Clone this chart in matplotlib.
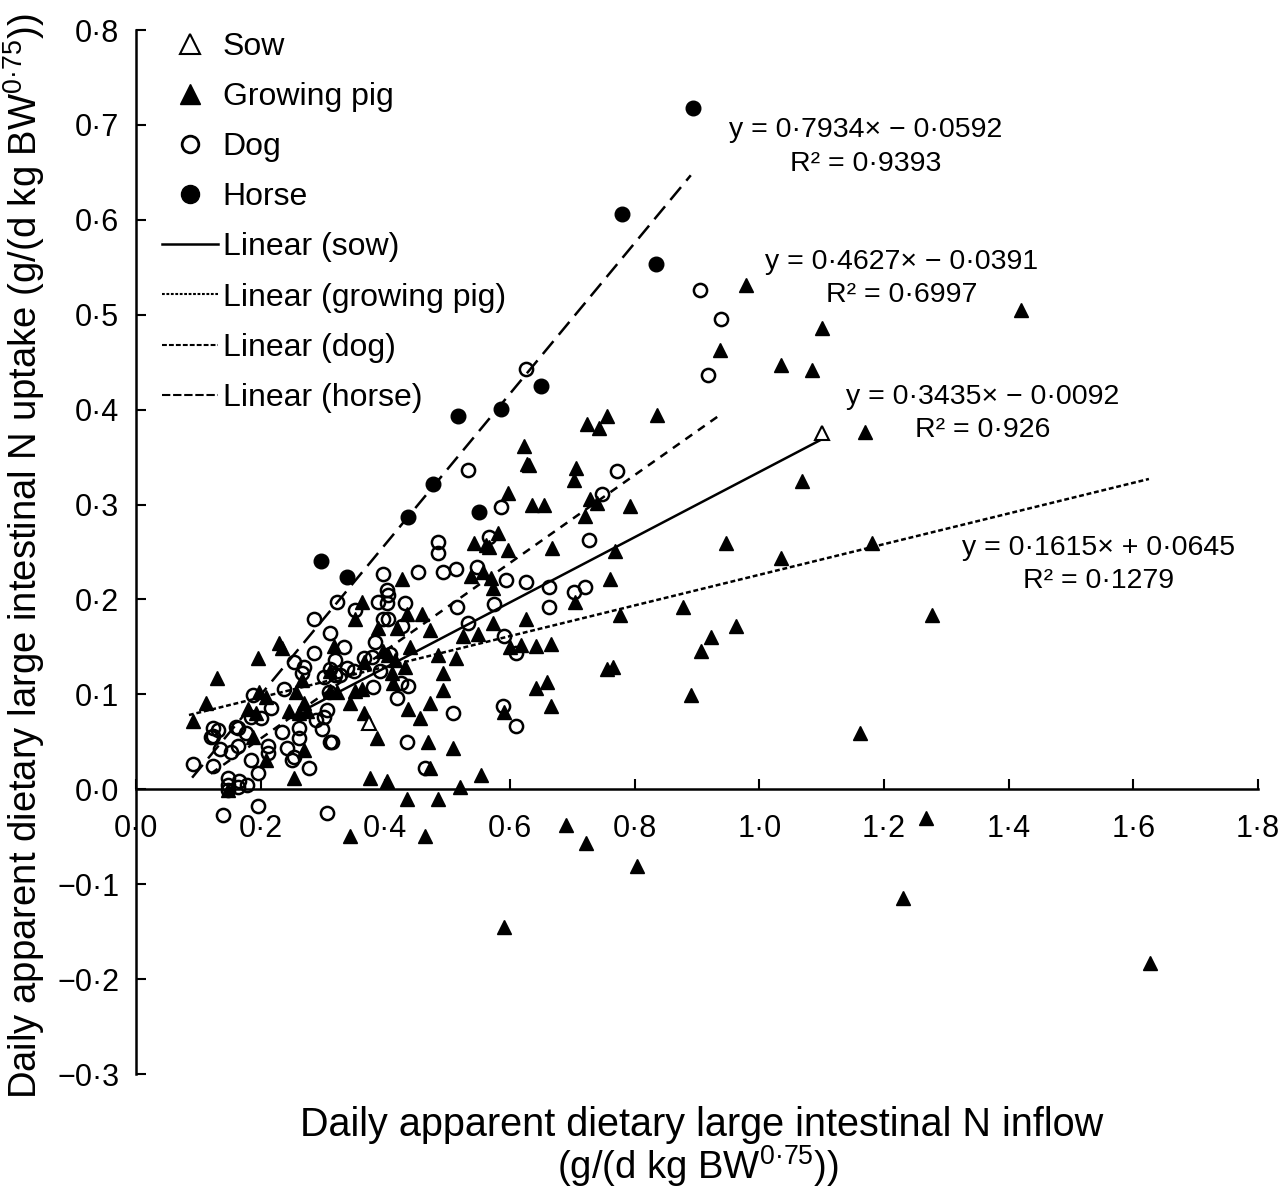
import matplotlib
matplotlib.use("Agg")
import matplotlib.pyplot as plt
from matplotlib.lines import Line2D

plt.rcParams['font.family'] = ['Liberation Sans', 'DejaVu Sans']
plt.rcParams['lines.scale_dashes'] = False

# ---------------- data ----------------
sow_x = [1.101, 0.374]
sow_y = [0.375, 0.070]

pig_x = [0.978, 1.419, 1.101, 0.937, 1.034, 1.085, 1.170, 0.836, 1.069, 1.181, 1.034, 0.947, 0.878,
         0.963, 0.923, 0.907, 1.277, 0.890, 1.162, 1.267, 1.231, 1.627, 0.804, 0.722, 0.690, 0.591,
         0.724, 0.743, 0.756, 0.630, 0.706, 0.702, 0.636, 0.654, 0.729, 0.739, 0.793, 0.721, 0.668,
         0.769, 0.761, 0.705, 0.776, 0.625, 0.617, 0.641, 0.665, 0.756, 0.766, 0.641, 0.660, 0.666,
         0.596, 0.581, 0.542, 0.561, 0.566, 0.596, 0.537, 0.556, 0.569, 0.573, 0.427, 0.363, 0.352,
         0.389, 0.419, 0.435, 0.459, 0.472, 0.572, 0.525, 0.549, 0.600, 0.440, 0.397, 0.405, 0.416,
         0.432, 0.484, 0.513, 0.365, 0.312, 0.493, 0.493, 0.312, 0.352, 0.363, 0.411, 0.413, 0.344,
         0.365, 0.437, 0.472, 0.456, 0.387, 0.469, 0.508, 0.590, 0.472, 0.553, 0.376, 0.403, 0.519,
         0.435, 0.484, 0.344, 0.464, 0.229, 0.235, 0.195, 0.130, 0.113, 0.092, 0.197, 0.208, 0.179,
         0.192, 0.256, 0.269, 0.274, 0.245, 0.261, 0.317, 0.323, 0.187, 0.208, 0.269, 0.254, 0.147,
         0.267, 0.628, 0.622]
pig_y = [0.531, 0.505, 0.486, 0.463, 0.447, 0.442, 0.376, 0.394, 0.325, 0.259, 0.244, 0.259, 0.192,
         0.172, 0.160, 0.146, 0.184, 0.099, 0.059, -0.030, -0.115, -0.183, -0.081, -0.057, -0.038, -0.145,
         0.385, 0.381, 0.393, 0.342, 0.339, 0.326, 0.300, 0.299, 0.306, 0.302, 0.298, 0.288, 0.254,
         0.251, 0.222, 0.197, 0.184, 0.179, 0.152, 0.151, 0.153, 0.127, 0.129, 0.107, 0.113, 0.088,
         0.312, 0.270, 0.260, 0.257, 0.255, 0.252, 0.225, 0.229, 0.223, 0.212, 0.222, 0.197, 0.179,
         0.170, 0.170, 0.185, 0.185, 0.168, 0.175, 0.162, 0.164, 0.150, 0.150, 0.146, 0.141, 0.136,
         0.129, 0.141, 0.138, 0.134, 0.125, 0.122, 0.105, 0.104, 0.104, 0.106, 0.122, 0.112, 0.091,
         0.080, 0.085, 0.091, 0.075, 0.054, 0.050, 0.043, 0.081, 0.022, 0.015, 0.012, 0.009, 0.002,
         -0.010, -0.010, -0.049, -0.049, 0.154, 0.149, 0.138, 0.117, 0.091, 0.072, 0.102, 0.097, 0.085,
         0.080, 0.102, 0.091, 0.082, 0.082, 0.080, 0.151, 0.102, 0.055, 0.031, 0.041, 0.012, -0.001,
         0.115, 0.343, 0.362]

dog_x = [0.905, 0.939, 0.917, 0.625, 0.532, 0.772, 0.748, 0.726, 0.625, 0.663, 0.702, 0.720, 0.663,
         0.585, 0.485, 0.485, 0.396, 0.453, 0.493, 0.514, 0.547, 0.567, 0.593, 0.403, 0.405, 0.323,
         0.352, 0.389, 0.402, 0.396, 0.405, 0.432, 0.515, 0.574, 0.532, 0.426, 0.312, 0.384, 0.590,
         0.609, 0.333, 0.320, 0.365, 0.379, 0.312, 0.328, 0.392, 0.425, 0.437, 0.419, 0.381, 0.408,
         0.508, 0.589, 0.610, 0.312, 0.434, 0.463, 0.307,
         0.285, 0.285, 0.253, 0.269, 0.267, 0.301, 0.320, 0.339, 0.349, 0.309, 0.237, 0.187, 0.216,
         0.184, 0.200, 0.235, 0.124, 0.131, 0.123, 0.163, 0.176, 0.261, 0.288, 0.299, 0.307, 0.301,
         0.134, 0.152, 0.163, 0.184, 0.195, 0.211, 0.243, 0.253, 0.261, 0.277, 0.315, 0.092, 0.123,
         0.147, 0.165, 0.178, 0.163, 0.148, 0.147, 0.195, 0.140, 0.160, 0.120, 0.211, 0.251]
dog_y = [0.526, 0.496, 0.437, 0.443, 0.336, 0.335, 0.311, 0.263, 0.218, 0.213, 0.208, 0.213, 0.192,
         0.297, 0.261, 0.249, 0.227, 0.229, 0.229, 0.232, 0.234, 0.266, 0.221, 0.210, 0.205, 0.197,
         0.189, 0.197, 0.196, 0.179, 0.179, 0.196, 0.192, 0.195, 0.175, 0.172, 0.165, 0.155, 0.161,
         0.144, 0.150, 0.136, 0.138, 0.139, 0.127, 0.120, 0.125, 0.112, 0.109, 0.096, 0.108, 0.143,
         0.080, 0.088, 0.067, 0.050, 0.050, 0.022, -0.025,
         0.179, 0.144, 0.134, 0.129, 0.122, 0.118, 0.120, 0.128, 0.125, 0.102, 0.106, 0.099, 0.086,
         0.076, 0.075, 0.060, 0.065, 0.062, 0.056, 0.065, 0.059, 0.065, 0.073, 0.064, 0.083, 0.076,
         0.042, 0.039, 0.046, 0.031, 0.017, 0.046, 0.044, 0.034, 0.054, 0.022, 0.050, 0.027, 0.025,
         0.012, 0.009, 0.004, 0.002, 0.004, -0.001, -0.018, -0.027, 0.066, 0.055, 0.038, 0.031]

horse_x = [0.893, 0.780, 0.835, 0.650, 0.585, 0.516, 0.476, 0.551, 0.437, 0.339, 0.296]
horse_y = [0.718, 0.606, 0.553, 0.425, 0.401, 0.393, 0.322, 0.292, 0.287, 0.224, 0.241]

# regression lines: slope, intercept, x range
fit_names = ['sow', 'growing pig', 'dog', 'horse']
fit_slope = [0.3435, 0.1615, 0.4627, 0.7934]
fit_icept = [-0.0092, 0.0645, -0.0391, -0.0592]
fit_xmin = [0.28, 0.085, 0.12, 0.09]
fit_xmax = [1.10, 1.625, 0.935, 0.89]
fit_eq = ['y = 0·3435× − 0·0092\nR² = 0·926',
          'y = 0·1615× + 0·0645\nR² = 0·1279',
          'y = 0·4627× − 0·0391\nR² = 0·6997',
          'y = 0·7934× − 0·0592\nR² = 0·9393']
fit_eq_x = [1.358, 1.544, 1.228, 1.170]
fit_eq_y = [0.396, 0.237, 0.538, 0.677]

x_ticks = [0.0, 0.2, 0.4, 0.6, 0.8, 1.0, 1.2, 1.4, 1.6, 1.8]
x_ticklabels = ['0·0', '0·2', '0·4', '0·6', '0·8', '1·0', '1·2', '1·4', '1·6', '1·8']
y_ticks = [-0.3, -0.2, -0.1, 0.0, 0.1, 0.2, 0.3, 0.4, 0.5, 0.6, 0.7, 0.8]
y_ticklabels = ['−0·3', '−0·2', '−0·1', '0·0', '0·1', '0·2', '0·3', '0·4', '0·5', '0·6', '0·7', '0·8']

# ---------------- figure ----------------
W, H = 1285, 1190
fig = plt.figure(figsize=(W / 100, H / 100), dpi=100)
ax = fig.add_axes([136 / W, 1 - 1074 / H, (1258 - 136) / W, (1074 - 30) / H])
ax.set_xlim(0, 1.8)
ax.set_ylim(-0.3, 0.8)

lw_sp = 1.8
for s in ['top', 'right']:
    ax.spines[s].set_visible(False)
ax.spines['left'].set_linewidth(lw_sp)
ax.spines['bottom'].set_linewidth(lw_sp)
ax.spines['bottom'].set_position(('data', 0))

ax.set_xticks(x_ticks)
ax.set_xticklabels(x_ticklabels)
ax.set_yticks(y_ticks)
ax.set_yticklabels(y_ticklabels)
ax.tick_params(axis='both', direction='in', length=7, width=1.5, labelsize=22)
ax.tick_params(axis='x', pad=18)
ax.tick_params(axis='y', pad=12)

styles = {
    'sow': dict(ls='-'),
    'growing pig': dict(ls=(0, (3.5, 2.0))),
    'dog': dict(ls=(0, (6.0, 5.0))),
    'horse': dict(ls=(0, (12.0, 6.0))),
}

ms = 9.5
ax.plot(pig_x, pig_y, ls='none', marker='^', ms=ms, mfc='black', mec='black', zorder=3)
ax.plot(dog_x, dog_y, ls='none', marker='o', ms=ms, mfc='none', mec='black', mew=1.8, zorder=3)
ax.plot(horse_x, horse_y, ls='none', marker='o', ms=ms + 1, mfc='black', mec='black', zorder=3)
ax.plot(sow_x, sow_y, ls='none', marker='^', ms=ms, mfc='white', mec='black', mew=1.5, zorder=4)

for name, m, b, x0, x1, eq, tx, ty in zip(fit_names, fit_slope, fit_icept, fit_xmin, fit_xmax,
                                          fit_eq, fit_eq_x, fit_eq_y):
    ax.plot([x0, x1], [m * x0 + b, m * x1 + b], color='black', lw=1.8, zorder=2, **styles[name])
    ax.text(tx, ty, eq, ha='center', va='center', fontsize=20.5, linespacing=1.38, zorder=5)

# legend
handles = [
    Line2D([], [], ls='none', marker='^', ms=14, mfc='white', mec='black', mew=1.5),
    Line2D([], [], ls='none', marker='^', ms=14, mfc='black', mec='black'),
    Line2D([], [], ls='none', marker='o', ms=12, mfc='none', mec='black', mew=2),
    Line2D([], [], ls='none', marker='o', ms=13, mfc='black', mec='black'),
    Line2D([], [], color='black', lw=1.8, **styles['sow']),
    Line2D([], [], color='black', lw=1.5, ls=(0, (2.0, 1.2))),
    Line2D([], [], color='black', lw=1.5, ls=(0, (3.5, 1.5))),
    Line2D([], [], color='black', lw=1.5, ls=(0, (6.0, 2.0))),
]
labels = ['Sow', 'Growing pig', 'Dog', 'Horse', 'Linear (sow)', 'Linear (growing pig)',
          'Linear (dog)', 'Linear (horse)']
fig.legend(handles, labels, loc='upper left', bbox_to_anchor=(162 / W, 1 - 32 / H),
           bbox_transform=fig.transFigure, frameon=False, fontsize=23, borderpad=0,
           borderaxespad=0, handlelength=1.75, handletextpad=0.15, labelspacing=0.63)

fig.text(702 / W, 1 - 1125 / H, 'Daily apparent dietary large intestinal N inflow',
         ha='center', va='center', fontsize=28.5)
fig.text(698 / W, 1 - 1166 / H, '(g/(d kg BW$^{\\mathregular{0·75}}$))',
         ha='center', va='center', fontsize=27.5)
fig.text(24 / W, 1 - 556 / H,
         'Daily apparent dietary large intestinal N uptake (g/(d kg BW$^{\\mathregular{0·75}}$))',
         ha='center', va='center', rotation=90, fontsize=27.5)

fig.savefig('out.png', dpi=100)
